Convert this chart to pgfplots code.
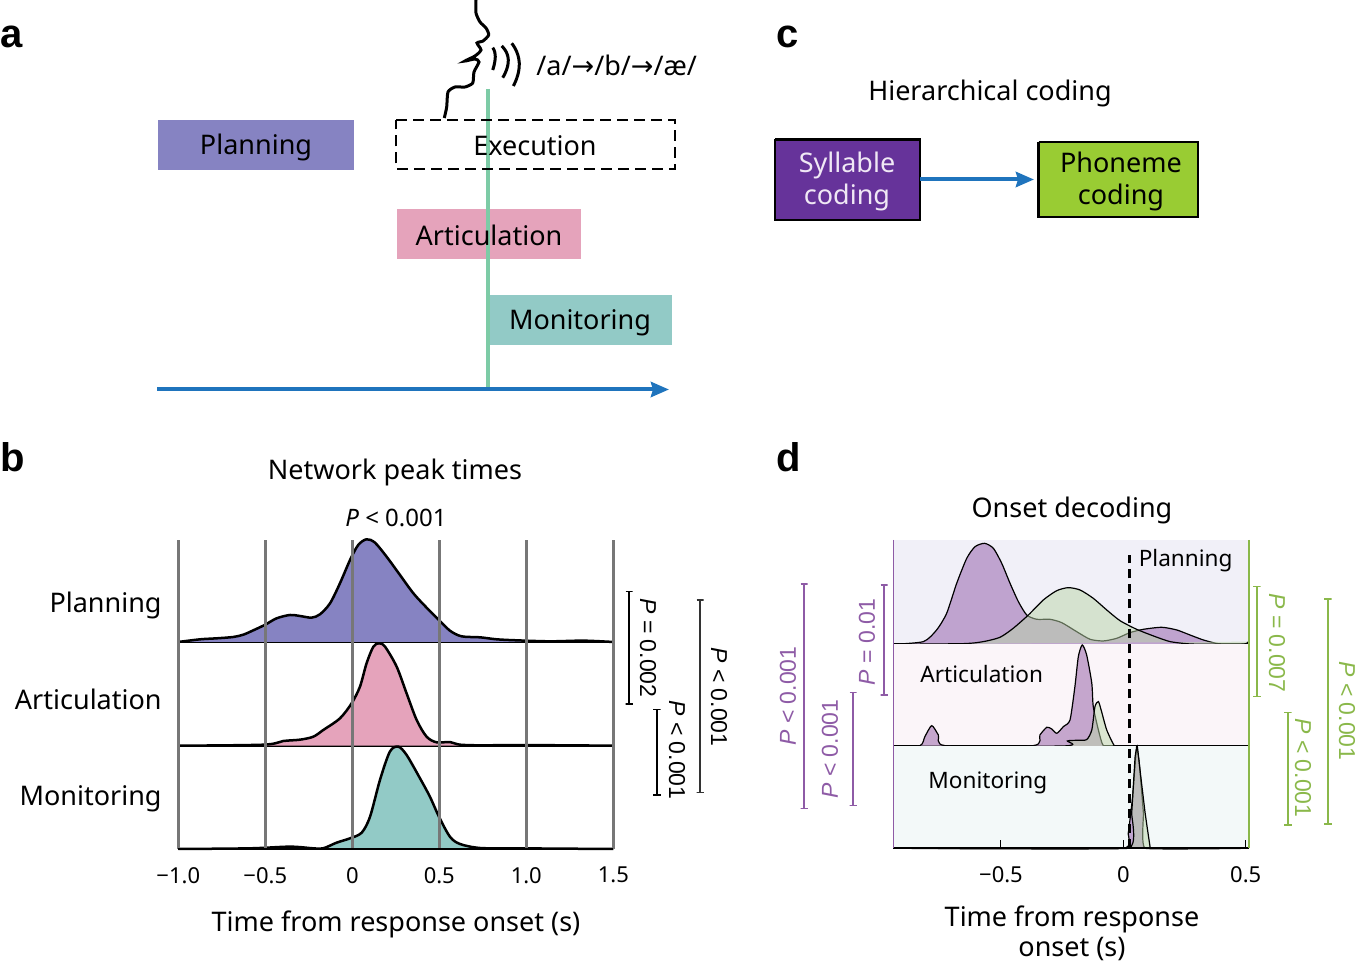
\documentclass[border=0pt]{standalone}
\usepackage{fontspec}
\usepackage{pgfplots}
\pgfplotsset{compat=1.18}
\usetikzlibrary{arrows.meta}
\setmainfont{Noto Sans}
\newfontfamily\lib{Liberation Sans}
\newfontfamily\djv{DejaVu Sans}

\definecolor{plan}{HTML}{8683C2}
\definecolor{artic}{HTML}{E5A3BB}
\definecolor{monit}{HTML}{92CAC6}
\definecolor{mint}{HTML}{7DCBA6}
\definecolor{arrowblue}{HTML}{1F74BD}
\definecolor{sylfill}{HTML}{66339A}
\definecolor{phofill}{HTML}{99CC33}
\definecolor{purp}{HTML}{8E5BA6}
\definecolor{gree}{HTML}{8AB84A}
\definecolor{gridgray}{HTML}{777777}
\definecolor{dpurple}{RGB}{191,163,207}
\definecolor{dgreen}{RGB}{187,214,168}

\newcommand{\txt}{\fontsize{13.5}{16}\selectfont}
\newcommand{\stxt}{\fontsize{11.3}{14}\selectfont}
\newcommand{\ptxt}{\lib\fontsize{11.5}{14}\selectfont}
\newcommand{\ltr}{\lib\bfseries\fontsize{20}{22}\selectfont}

% bracket: left x, mid x, right x, top y, bottom y, colour
\newcommand{\brk}[6]{\addplot[#6,line width=0.8pt] coordinates {(#1,#4)(#3,#4)(#2,#4)(#2,#5)(#1,#5)(#3,#5)};}

\pgfplotsset{
  rowb/.style={scale only axis,width=217.5pt,height=51.85pt,xmin=-1,xmax=1.5,ymin=0,ymax=311,
    axis y line=none,axis x line=bottom,axis line style={-,line width=0.9pt},xtick=\empty,clip=false},
  rowd/.style={scale only axis,width=177.7pt,xmin=-0.94,xmax=0.512,ymin=0,
    axis y line=none,axis x line=bottom,axis line style={-,line width=1.1pt},xtick=\empty,clip=false},
  fillb/.style={smooth,tension=0.5,draw=black,line width=1.25pt,fill=#1},
  filld/.style={smooth,tension=0.4,draw=black,line width=0.6pt,fill=#1},
}

\begin{document}
\begin{tikzpicture}

% panel b, rows
\begin{axis}[rowb,at={(89.15pt,160pt)},anchor=south west]
\addplot[fillb=plan] coordinates {
(-1.000,0)(-0.875,8)(-0.780,11)(-0.684,15)(-0.626,22)(-0.569,35)(-0.500,52)(-0.435,71)(-0.358,81)(-0.301,78)
(-0.234,73)(-0.186,83)(-0.128,116)(-0.071,176)(-0.013,246)(0.034,291)(0.082,308)(0.130,298)(0.197,256)(0.274,201)
(0.351,146)(0.427,103)(0.498,66)(0.561,34)(0.628,17)(0.734,14)(0.830,8)(0.944,5)(1.136,2)(1.328,4)(1.500,0)};
\end{axis}
\begin{axis}[rowb,at={(89.15pt,108.15pt)},anchor=south west]
\addplot[fillb=artic] coordinates {
(-1.000,0)(-0.511,3)(-0.397,14)(-0.301,18)(-0.224,27)(-0.167,47)(-0.071,82)(-0.004,127)(0.044,177)(0.082,247)
(0.121,297)(0.153,307)(0.188,297)(0.255,237)(0.312,157)(0.370,77)(0.427,27)(0.485,10)(0.561,11)(0.619,3)
(0.753,1)(0.944,2)(1.500,0)};
\end{axis}
\begin{axis}[rowb,at={(89.15pt,56.5pt)},anchor=south west]
\addplot[fillb=monit] coordinates {
(-1.000,0)(-0.588,2)(-0.358,7)(-0.224,2)(-0.167,2)(-0.090,19)(-0.013,32)(0.054,49)(0.102,97)(0.159,207)
(0.216,292)(0.264,307)(0.312,282)(0.389,212)(0.446,157)(0.498,97)(0.561,37)(0.619,15)(0.734,3)(0.944,2)(1.500,0)};
\end{axis}

% panel b, grid and tick labels
\begin{axis}[scale only axis,at={(89.15pt,56.5pt)},anchor=south west,width=217.5pt,height=154.5pt,
  xmin=-1,xmax=1.5,ymin=0,ymax=1,axis y line=none,axis x line=bottom,
  axis line style={-,line width=1.1pt},
  xtick={-1,-0.5,0,0.5,1,1.5},xticklabels={−1.0,−0.5,0,0.5,1.0,1.5},
  xmajorgrids,grid style={gridgray,line width=1.2pt},major tick length=0pt,
  x tick label style={font=\fontsize{11}{14}\selectfont,yshift=-5.5pt}]
\end{axis}

% panel d, rows
\begin{axis}[rowd,at={(446.65pt,158.85pt)},anchor=south west,height=52.15pt,ymax=313,
  axis background/.style={fill={rgb,255:red,241;green,240;blue,248}}]
\addplot[filld=dpurple] coordinates {
(-0.940,0)(-0.817,8)(-0.763,43)(-0.722,93)(-0.681,183)(-0.640,258)(-0.606,293)(-0.567,303)(-0.531,288)(-0.497,243)
(-0.463,183)(-0.429,128)(-0.395,88)(-0.354,75)(-0.300,75)(-0.252,65)(-0.191,38)(-0.136,15)(-0.082,10)(-0.027,18)
(0.027,35)(0.082,45)(0.157,51)(0.218,43)(0.272,28)(0.327,13)(0.395,1)(0.512,0)};
\addplot[filld=dgreen,fill opacity=0.5] coordinates {
(-0.940,0)(-0.654,2)(-0.572,8)(-0.504,21)(-0.450,48)(-0.388,88)(-0.327,133)(-0.272,161)(-0.225,170)(-0.177,163)
(-0.123,138)(-0.068,103)(-0.014,71)(0.054,45)(0.123,25)(0.191,8)(0.272,1)(0.368,0)(0.490,0)(0.512,8)};
\end{axis}
\begin{axis}[rowd,at={(446.65pt,107.85pt)},anchor=south west,height=51pt,ymax=306,
  axis background/.style={fill={rgb,255:red,251;green,245;blue,249}}]
\addplot[filld=dpurple!90!pink] coordinates {
(-0.940,0)(-0.831,2)(-0.811,29)(-0.783,62)(-0.756,34)(-0.729,2)(-0.368,2)(-0.341,34)(-0.313,57)(-0.293,52)
(-0.272,39)(-0.245,59)(-0.218,79)(-0.198,179)(-0.184,269)(-0.168,304)(-0.150,274)(-0.129,189)(-0.123,119)(-0.102,49)
(-0.082,2)(-0.041,0)(0.512,0)};
\addplot[filld=dgreen,fill opacity=0.5] coordinates {
(-0.940,0)(-0.245,1)(-0.229,16)(-0.191,18)(-0.150,20)(-0.129,49)(-0.116,119)(-0.102,134)(-0.089,104)(-0.068,49)
(-0.037,2)(-0.014,0)(0.512,0)};
\end{axis}
\begin{axis}[rowd,at={(446.65pt,56.85pt)},anchor=south west,height=51pt,ymax=306,
  axis background/.style={fill={rgb,255:red,243;green,249;blue,249}}]
\addplot[filld=dpurple,tension=0.15] coordinates {
(-0.940,0)(0.000,0)(0.020,45)(0.038,155)(0.054,305)(0.065,255)(0.082,105)(0.089,0)(0.512,0)};
\addplot[filld=dgreen,fill opacity=0.5,tension=0.15] coordinates {
(-0.940,0)(0.020,0)(0.034,105)(0.048,275)(0.057,305)(0.068,235)(0.089,105)(0.109,5)(0.116,0)(0.512,0)};
\end{axis}

% panel d, ticks and onset line
\begin{axis}[scale only axis,at={(446.65pt,56.85pt)},anchor=south west,width=177.7pt,height=154pt,
  xmin=-0.94,xmax=0.512,ymin=0,ymax=1,axis y line=none,axis x line=bottom,
  axis line style={-,line width=1.1pt},clip=false,
  xtick={-0.5,0,0.5},xticklabels={−0.5,0,0.5},tick align=inside,major tick length=4pt,
  tick style={black,line width=0.5pt},
  x tick label style={font=\fontsize{11}{14}\selectfont,yshift=-5.5pt}]
\addplot[black,line width=1.4pt,dash pattern=on 4.5pt off 3pt] coordinates {(0.025,0)(0.025,0.951)};
\end{axis}

% page layer in image pixels: panels a and c, titles, brackets
\begin{axis}[scale only axis,at={(0pt,0pt)},anchor=south west,width=678pt,height=481pt,
  xmin=0,xmax=1356,ymin=0,ymax=962,y dir=reverse,axis lines=none,clip=false]

% panel a
\addplot[draw=none,fill=plan] coordinates {(158,120)(354,120)(354,170)(158,170)};
\addplot[draw=none,fill=artic] coordinates {(396.5,209)(581,209)(581,259)(396.5,259)};
\addplot[draw=none,fill=monit] coordinates {(487,295)(672,295)(672,345)(487,345)};
\addplot[mint,line width=1.75pt] coordinates {(488,89)(488,388)};
\addplot[black,line width=1pt,dash pattern=on 5.5pt off 3pt] coordinates {(396,120.5)(675,120.5)(675,169)(396,169)(396,120.5)};
\addplot[arrowblue,line width=2pt,-{Stealth[length=9pt,width=7.5pt,inset=1pt]}] coordinates {(157,389.5)(669,389.5)};

% speaker
\addplot[smooth,tension=0.4,black,line width=1.5pt] coordinates {
(476,0)(476,13)(480,22)(486,28)(488.7,35)(483,41)(477,43)(481,50)(475,56)(465,61)(475,59)(479,62)(474,72)
(472.7,83)(465,87)(455,87)(448,92)(446.7,107)(444.3,118)};
\addplot[smooth,tension=1,black,line width=1.5pt] coordinates {(492.7,47.7)(495.3,56.7)(492.7,70)};
\addplot[smooth,tension=1,black,line width=1.5pt] coordinates {(501.7,46)(508.3,60)(502.7,77.7)};
\addplot[smooth,tension=1,black,line width=1.5pt] coordinates {(511.7,43.3)(519.3,63.3)(513.3,86)};

\node[font=\txt] at (axis cs:256,147) {Planning};
\node[font=\txt] at (axis cs:535,146) {Execution};
\node[font=\txt] at (axis cs:489,235) {Articulation};
\node[font=\txt] at (axis cs:580,323) {Monitoring};
\node[font=\txt,anchor=west,inner sep=0pt] at (axis cs:536,65) {/a/{\djv\fontsize{13.5}{16}\selectfont→}/b/{\djv\fontsize{13.5}{16}\selectfont→}/æ/};

% panel c
\node[font=\txt] at (axis cs:990,93) {Hierarchical coding};
\addplot[draw=black,line width=1.4pt,fill=sylfill] coordinates {(775,139.5)(920,139.5)(920,220)(775,220)(775,139.5)};
\addplot[draw=black,line width=1.4pt,fill=phofill] coordinates {(1038.5,142)(1198,142)(1198,217)(1038.5,217)(1038.5,142)};
\addplot[arrowblue,line width=2pt,-{Stealth[length=9pt,width=7.5pt,inset=1pt]}] coordinates {(920,179.5)(1034,179.5)};
\node[font=\txt,text={rgb,255:red,240;green,232;blue,245},align=center] at (axis cs:847,181) {Syllable\\coding};
\node[font=\txt,align=center] at (axis cs:1121,181) {Phoneme\\coding};

% panel letters
\node[font=\ltr,anchor=west,inner sep=0pt] at (axis cs:0,37) {a};
\node[font=\ltr,anchor=west,inner sep=0pt] at (axis cs:0,457) {b};
\node[font=\ltr,anchor=west,inner sep=0pt] at (axis cs:776,37) {c};
\node[font=\ltr,anchor=west,inner sep=0pt] at (axis cs:776,457) {d};

% panel b text
\node[font=\txt] at (axis cs:395,472) {Network peak times};
\node[font=\fontsize{12}{14}\selectfont] at (axis cs:396,518) {\textit{P} < 0.001};
\node[font=\txt,anchor=east,inner sep=0pt] at (axis cs:162,605) {Planning};
\node[font=\txt,anchor=east,inner sep=0pt] at (axis cs:162,699) {Articulation};
\node[font=\txt,anchor=east,inner sep=0pt] at (axis cs:162,799) {Monitoring};
\node[font=\txt] at (axis cs:396,924) {Time from response onset (s)};

\brk{625.5}{629}{632.5}{591.5}{704}{black}
\brk{653}{656.7}{660.5}{709.5}{795}{black}
\brk{696.5}{700}{703.5}{600}{792.5}{black!80}
\node[font=\ptxt,rotate=-90] at (axis cs:648,648) {\textit{P} = 0.002};
\node[font=\ptxt,rotate=-90] at (axis cs:677,750) {\textit{P} < 0.001};
\node[font=\ptxt,rotate=-90] at (axis cs:719,697) {\textit{P} < 0.001};

% panel d text and frame
\addplot[purp,line width=0.7pt] coordinates {(893.3,540)(893.3,848)};
\addplot[gree,line width=0.9pt] coordinates {(1249,540)(1249,848)};
\node[font=\txt] at (axis cs:1072,510) {Onset decoding};
\node[font=\stxt,anchor=east,inner sep=0pt] at (axis cs:1233,561) {Planning};
\node[font=\stxt,anchor=west,inner sep=0pt] at (axis cs:920,674) {Articulation};
\node[font=\stxt,anchor=west,inner sep=0pt] at (axis cs:928,783) {Monitoring};
\node[font=\txt,inner sep=0pt] at (axis cs:1072,919) {Time from response};
\node[font=\txt,inner sep=0pt] at (axis cs:1072,949) {onset (s)};

\brk{800.5}{804}{807.5}{584}{808.5}{purp}
\brk{849.5}{853}{856.5}{692.5}{805.5}{purp}
\brk{880.5}{884}{887.5}{585}{695}{purp}
\node[font=\ptxt,text=purp,rotate=90] at (axis cs:788,696) {\textit{P} < 0.001};
\node[font=\ptxt,text=purp,rotate=90] at (axis cs:830,749) {\textit{P} < 0.001};
\node[font=\ptxt,text=purp,rotate=90] at (axis cs:867,642) {\textit{P} = 0.01};

\brk{1253}{1256.7}{1260.5}{586.5}{696.5}{gree}
\brk{1284}{1287.7}{1291.5}{712.5}{825}{gree}
\brk{1324}{1327.7}{1331.5}{599}{824}{gree}
\node[font=\ptxt,text=gree,rotate=-90] at (axis cs:1277,643) {\textit{P} = 0.007};
\node[font=\ptxt,text=gree,rotate=-90] at (axis cs:1303,768) {\textit{P} < 0.001};
\node[font=\ptxt,text=gree,rotate=-90,inner sep=0pt] at (axis cs:1347,711) {\textit{P} < 0.001};
\end{axis}
\pgfresetboundingbox
\path[use as bounding box] (0pt,0pt) rectangle (678pt,481pt);
\end{tikzpicture}
\end{document}
